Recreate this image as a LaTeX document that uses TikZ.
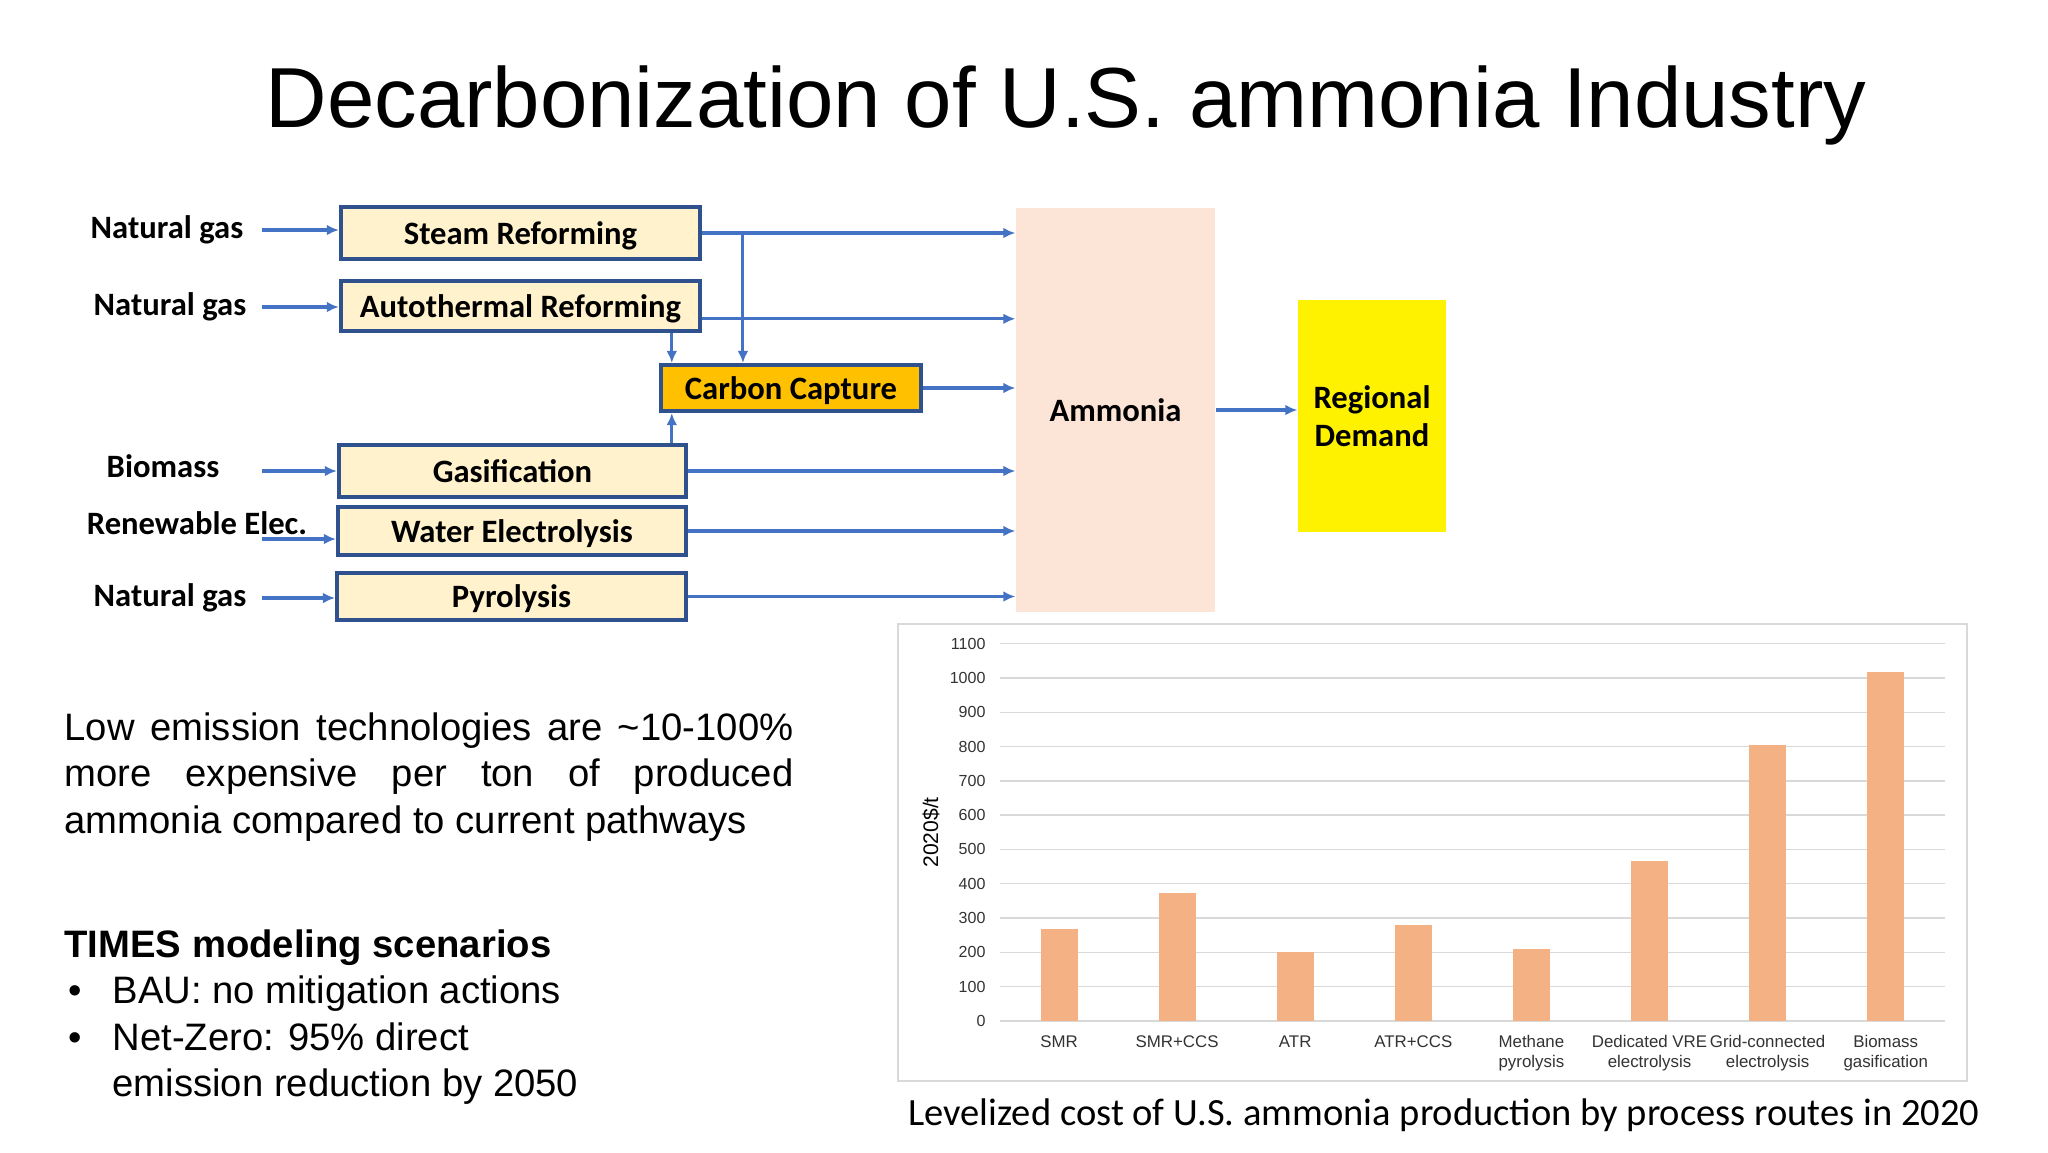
\documentclass[tikz,border=0pt]{standalone}
\usepackage{fontspec}
\setmainfont{Liberation Sans}
\newfontfamily\calib{Carlito}
\usepackage{tikz}
\usetikzlibrary{arrows.meta}

\definecolor{flowblue}{HTML}{4472C4}
\definecolor{boxline}{HTML}{2F528F}
\definecolor{boxfill}{HTML}{FFF2CC}
\definecolor{ccfill}{HTML}{FFC000}
\definecolor{ammfill}{HTML}{FCE4D6}
\definecolor{barfill}{HTML}{F4B183}
\definecolor{gridgray}{HTML}{D9D9D9}

\tikzset{
  proc/.style={draw=boxline, line width=1.4pt, fill=boxfill, inner sep=0pt, text depth=0pt,
    font=\calib\bfseries\fontsize{11.6}{13.5}\selectfont},
  capture/.style={proc, fill=ccfill},
  stock/.style={inner sep=0pt, align=center, font=\calib\bfseries\fontsize{11.6}{13.5}\selectfont},
  source/.style={inner sep=0pt, font=\calib\bfseries\fontsize{11.6}{13.5}\selectfont},
  flow/.style={draw=flowblue, line width=1.1pt, -{Latex[length=4.3pt,width=3.8pt]}},
  grid line/.style={draw=gridgray, line width=0.5pt},
  ticklab/.style={inner sep=0pt, font=\fontsize{5.7}{6.5}\selectfont, text=black!80},
  catlab/.style={inner sep=0pt, align=center, font=\fontsize{6}{6.9}\selectfont, text=black!80},
  bodytext/.style={inner sep=0pt, font=\fontsize{13.6}{16.5}\selectfont}
}

\begin{document}
\begin{tikzpicture}[x=0.0125cm, y=-0.0125cm]
\useasboundingbox[fill=white] (0,0) rectangle (2048,1152);

\node[font=\fontsize{30.3}{36}\selectfont, anchor=base] (title) at (1066,127) {Decarbonization of U.S. ammonia Industry};

\node[proc, minimum width=4.49cm, minimum height=0.65cm] (smr) at (520.5,233) {Steam Reforming};
\node[proc, minimum width=4.49cm, minimum height=0.625cm] (atr) at (520.5,306) {Autothermal Reforming};
\node[capture, minimum width=3.25cm, minimum height=0.575cm] (cc) at (791,388) {Carbon Capture};
\node[proc, minimum width=4.34cm, minimum height=0.65cm] (gas) at (512.5,471) {Gasification};
\node[proc, minimum width=4.35cm, minimum height=0.6cm] (we) at (512,531) {Water Electrolysis};
\node[proc, minimum width=4.36cm, minimum height=0.59cm] (pyr) at (511.5,596.5) {Pyrolysis};

\node[stock, fill=ammfill, minimum width=2.4875cm, minimum height=5.05cm] (amm) at (1115.5,410) {Ammonia};
\node[stock, fill=yellow, minimum width=1.85cm, minimum height=2.9cm] (dem) at (1372,416) {Regional\\Demand};

\node[source] (ng1) at (167,230) {Natural gas};
\node[source] (ng2) at (170,307) {Natural gas};
\node[source] (bio) at (163,466) {Biomass};
\node[source] (rel) at (197,523) {Renewable Elec.};
\node[source] (ng3) at (170,598) {Natural gas};

\coordinate (instart) at (262,0);
\coordinate (atrout) at ([yshift=-0.16cm]atr.east);
\coordinate (srtap) at ([xshift=0.51cm]smr.east);
\coordinate (ccport) at ([xshift=0.16cm]cc.north west);
\coordinate (relin) at ([yshift=-0.1cm]we.west);

\draw[flow] (ng1 -| instart) -- (ng1 -| smr.west);
\draw[flow] (ng2 -| instart) -- (ng2 -| atr.west);
\draw[flow] (gas.west -| instart) -- (gas.west);
\draw[flow] (relin -| instart) -- (relin);
\draw[flow] (ng3 -| instart) -- (ng3 -| pyr.west);

\draw[flow] (smr.east) -- (smr.east -| amm.west);
\draw[flow] (atrout) -- (atrout -| amm.west);
\draw[flow] (cc.east) -- (cc.east -| amm.west);
\draw[flow] (gas.east) -- (gas.east -| amm.west);
\draw[flow] (we.east) -- (we.east -| amm.west);
\draw[flow] (pyr.east) -- (pyr.east -| amm.west);

\draw[flow] (srtap) -- (srtap |- cc.north);
\draw[flow] (ccport |- atr.south) -- (ccport);
\draw[flow] (ccport |- gas.north) -- (ccport |- cc.south);

\draw[flow] (amm.east) -- (amm.east -| dem.west);

\node[bodytext, anchor=north west, text width=9.11cm, align=justify] (claim) at (64,712)
  {Low emission technologies are \textasciitilde10-100\%\linebreak more expensive per ton of produced\linebreak ammonia compared to current pathways};
\node[bodytext, anchor=north west, align=left] (scen) at (64,929)
  {\textbf{TIMES modeling scenarios}\\
   \hspace*{0.05cm}\makebox[0.55cm][l]{\textbullet}BAU: no mitigation actions\\
   \hspace*{0.05cm}\makebox[0.55cm][l]{\textbullet}Net-Zero: 95\% direct\\
   \hspace*{0.6cm}emission reduction by 2050};

\draw[gridgray, line width=0.6pt] (898,624) rectangle (1967,1081);
\begin{scope}[shift={(1000,1021)}, x=0.0125cm, y=0.004295cm]
  \foreach \v in {0,100,...,1100} {
    \draw[grid line] (0,\v) -- (945,\v);
    \node[ticklab, anchor=east] (tick\v) at (-14,\v) {\v};
  }
  \foreach \h [count=\i from 0] in {268,372,200,280,210,465,805,1018}
    \fill[barfill] ({118.1*\i+59-18.5},0) rectangle ++(37,\h);
  \foreach \lab [count=\i from 0] in {SMR,SMR+CCS,ATR,ATR+CCS,{Methane\\pyrolysis},{Dedicated VRE\\electrolysis},{Grid-connected\\electrolysis},{Biomass\\gasification}}
    \node[catlab, anchor=north] (cat\i) at ({118.1*\i+59},-41) {\lab};
  \node[ticklab, font=\fontsize{7.5}{8.5}\selectfont, text=black, rotate=90] (yname) at (-69,550) {2020\$/t};
\end{scope}

\node[font=\calib\fontsize{13.7}{16}\selectfont, anchor=base] (caption) at (1444,1125) {Levelized cost of U.S. ammonia production by process routes in 2020};
\end{tikzpicture}
\end{document}
